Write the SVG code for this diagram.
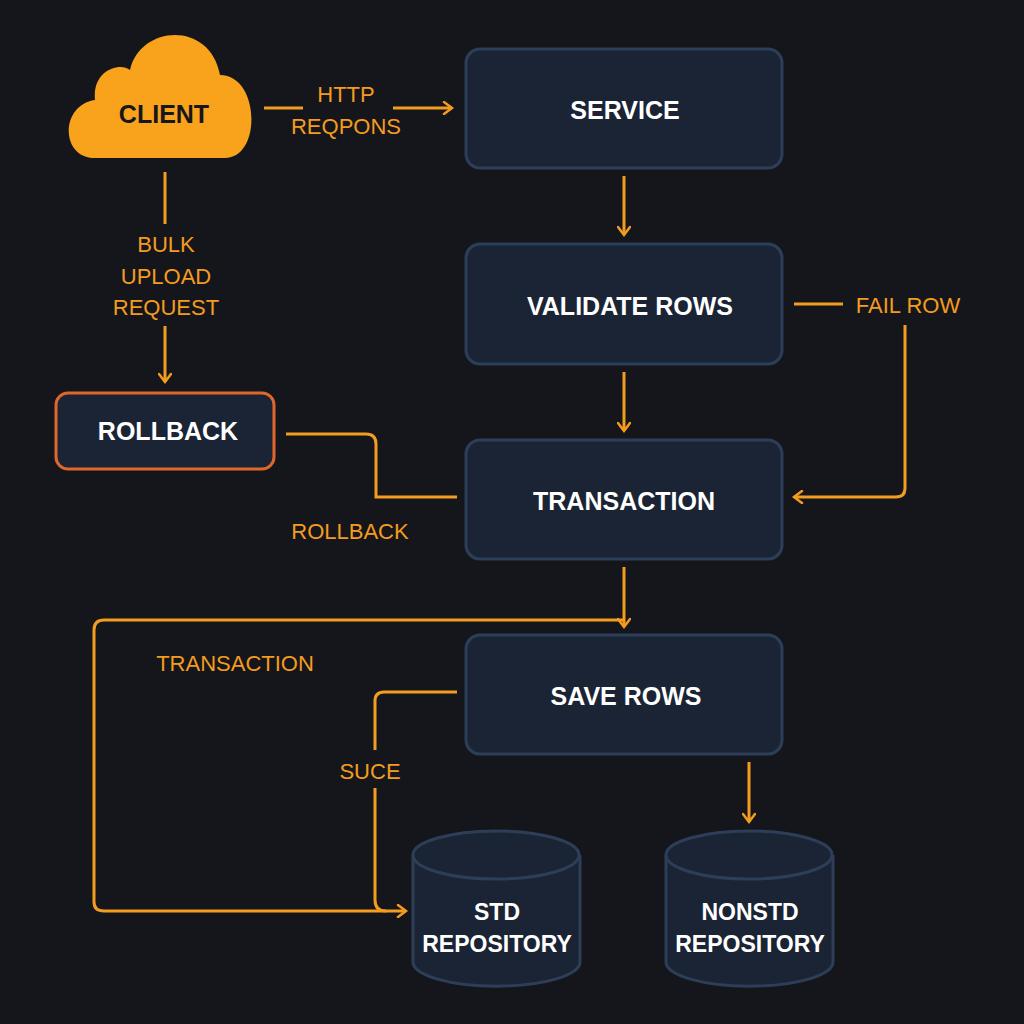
<svg xmlns="http://www.w3.org/2000/svg" width="1024" height="1024" viewBox="0 0 1024 1024">
<defs>
<marker id="ah" markerWidth="14" markerHeight="14" refX="10" refY="7" orient="auto" markerUnits="userSpaceOnUse"><path d="M2,1 L10,7 L2,13" fill="none" stroke="#f39c1f" stroke-width="2.5" stroke-linecap="round"/></marker>
</defs>
<style>
.box{fill:#1b2434;stroke:#2d3f58;stroke-width:3}
.t{font-family:"Liberation Sans",Arial,sans-serif;font-weight:bold;fill:#fff;font-size:25px;text-anchor:middle}
.l{font-family:"Liberation Sans",Arial,sans-serif;fill:#f39c1f;font-size:22px;text-anchor:middle}
.c{fill:none;stroke:#f39c1f;stroke-width:3}
</style>
<rect width="1024" height="1024" fill="#14161b"/>
<g id="client">
<path d="M95,158 C60,158 60,105 95,100 C92,70 120,62 130,70 C140,25 210,20 220,75 C260,75 262,158 225,158 Z" fill="#f9a21b"/>
<text class="t" x="164" y="123" style="fill:#15171c">CLIENT</text>
</g>
<g id="service"><rect class="box" x="466" y="49" width="316" height="119" rx="14"/><text class="t" x="625" y="119">SERVICE</text></g>
<g id="validate"><rect class="box" x="466" y="244" width="316" height="120" rx="14"/><text class="t" x="630" y="315">VALIDATE ROWS</text></g>
<g id="transaction"><rect class="box" x="466" y="440" width="316" height="119" rx="14"/><text class="t" x="624" y="510">TRANSACTION</text></g>
<g id="save"><rect class="box" x="466" y="635" width="316" height="119" rx="14"/><text class="t" x="626" y="705">SAVE ROWS</text></g>
<g id="rollback"><rect x="56" y="393" width="218" height="76" rx="12" fill="#1b2434" stroke="#e0662a" stroke-width="3"/><text class="t" x="168" y="440">ROLLBACK</text></g>
<g id="std"><path class="box" d="M413,855 L413,962 A83,24 0 0 0 580,962 L580,855"/><ellipse class="box" cx="496" cy="855" rx="83" ry="24"/><text class="t" x="497" y="920" style="font-size:23px">STD</text><text class="t" x="497" y="952" style="font-size:23px">REPOSITORY</text></g>
<g id="nonstd"><path class="box" d="M666,855 L666,962 A83,24 0 0 0 833,962 L833,855"/><ellipse class="box" cx="749" cy="855" rx="83" ry="24"/><text class="t" x="750" y="920" style="font-size:23px">NONSTD</text><text class="t" x="750" y="952" style="font-size:23px">REPOSITORY</text></g>
<g id="connectors">
<path class="c" d="M264,108 H303"/><path class="c" d="M393,108 H452" marker-end="url(#ah)"/>
<text class="l" x="346" y="102">HTTP</text><text class="l" x="346" y="134">REQPONS</text>
<path class="c" d="M165,172 V224"/><path class="c" d="M165,326 V382" marker-end="url(#ah)"/>
<text class="l" x="166" y="252">BULK</text><text class="l" x="166" y="284">UPLOAD</text><text class="l" x="166" y="315">REQUEST</text>
<path class="c" d="M624,176 V235" marker-end="url(#ah)"/>
<path class="c" d="M624,372 V431" marker-end="url(#ah)"/>
<path class="c" d="M624,567 V627" marker-end="url(#ah)"/>
<path class="c" d="M794,304 H843"/><text class="l" x="908" y="313">FAIL ROW</text>
<path class="c" d="M905,325 V488 Q905,497 896,497 H794" marker-end="url(#ah)"/>
<path class="c" d="M286,434 H366 Q376,434 376,444 V497 H457"/>
<text class="l" x="350" y="539">ROLLBACK</text>
<path class="c" d="M624,620 H104 Q94,620 94,630 V902 Q94,911 104,911 H406" marker-end="url(#ah)"/>
<text class="l" x="235" y="671">TRANSACTION</text>
<path class="c" d="M457,692 H384 Q375,692 375,701 V750"/>
<text class="l" x="370" y="779">SUCE</text>
<path class="c" d="M375,788 V900 Q375,911 386,911"/>
<path class="c" d="M749,762 V822" marker-end="url(#ah)"/>
</g>
</svg>
